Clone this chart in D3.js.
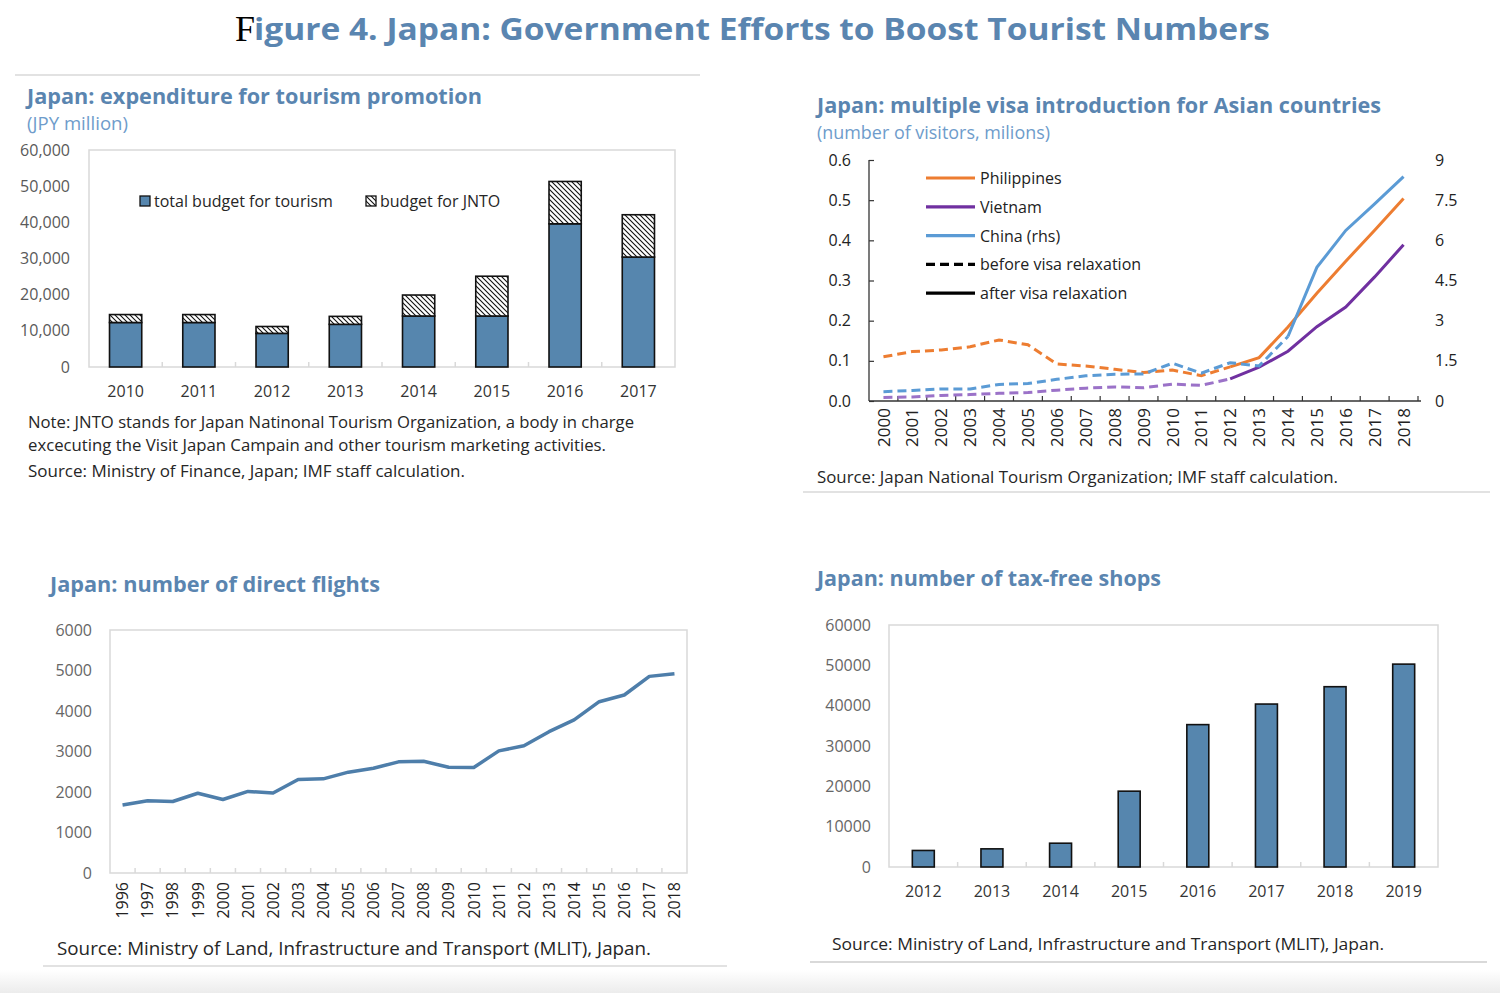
<!DOCTYPE html>
<html>
<head>
<meta charset="utf-8">
<script src="https://cdn.jsdelivr.net/npm/d3@7"></script>
<style>
  body { margin: 0; background: #fff; }
  svg text { font-family: 'Open Sans', sans-serif; }
</style>
</head>
<body>
<script>
// --- данные: расходы на продвижение туризма (JPY million)
const budgetYears = ['2010', '2011', '2012', '2013', '2014', '2015', '2016', '2017']
const tourismBudget = [12300, 12300, 9300, 11800, 14100, 14100, 39600, 30400]
const jntoBudget = [2200, 2200, 1900, 2200, 5800, 11000, 11700, 11700]
const budgetTicks = [0, 10000, 20000, 30000, 40000, 50000, 60000]

// --- данные: визы, число посетителей (млн)
const visaYears = ['2000', '2001', '2002', '2003', '2004', '2005', '2006', '2007', '2008', '2009',
    '2010', '2011', '2012', '2013', '2014', '2015', '2016', '2017', '2018']
const philippines = [0.110, 0.123, 0.127, 0.135, 0.152, 0.140, 0.092, 0.087, 0.079, 0.071,
    0.077, 0.063, 0.085, 0.108, 0.184, 0.268, 0.348, 0.425, 0.504]
const vietnam = [0.009, 0.010, 0.014, 0.016, 0.019, 0.021, 0.027, 0.032, 0.035, 0.033,
    0.042, 0.039, 0.055, 0.084, 0.124, 0.185, 0.234, 0.309, 0.389]
const china = [0.35, 0.39, 0.45, 0.45, 0.62, 0.65, 0.81, 0.94, 1.00, 1.01,
    1.41, 1.04, 1.43, 1.31, 2.41, 4.99, 6.37, 7.36, 8.38]
const relaxYear = {Philippines: '2012', Vietnam: '2012', China: '2014'}
const leftTicks = [0, 0.1, 0.2, 0.3, 0.4, 0.5, 0.6]
const rightTicks = [0, 1.5, 3, 4.5, 6, 7.5, 9]

// --- данные: прямые рейсы
const flightYears = ['1996', '1997', '1998', '1999', '2000', '2001', '2002', '2003', '2004', '2005', '2006',
    '2007', '2008', '2009', '2010', '2011', '2012', '2013', '2014', '2015', '2016', '2017', '2018']
const flights = [1680, 1785, 1765, 1970, 1815, 2015, 1975, 2310, 2325, 2490, 2585,
    2745, 2760, 2610, 2605, 3015, 3140, 3490, 3780, 4230, 4395, 4855, 4920]
const flightTicks = [0, 1000, 2000, 3000, 4000, 5000, 6000]

// --- данные: магазины tax-free
const shopYears = ['2012', '2013', '2014', '2015', '2016', '2017', '2018', '2019']
const shops = [4100, 4500, 5900, 18800, 35300, 40400, 44700, 50300]
const shopTicks = [0, 10000, 20000, 30000, 40000, 50000, 60000]

const width = 1500, height = 993
const barBlue = '#5686ae'
const titleBlue = '#5a85b0'
const subBlue = '#6e9ccb'
const frameGray = '#d9d9d9'
const orange = '#ed7d31', purple = '#7030a0', purpleLight = '#9b72c8', skyBlue = '#5b9bd5'

const svg = d3.select('body').append('svg').attr('width', width).attr('height', height)
svg.append('rect').attr('width', width).attr('height', height).attr('fill', '#fff')

// лёгкая серая тень внизу страницы
const defs = svg.append('defs')
const fade = defs.append('linearGradient').attr('id', 'fade').attr('x1', 0).attr('x2', 0).attr('y1', 0).attr('y2', 1)
fade.append('stop').attr('offset', '0%').attr('stop-color', '#fff')
fade.append('stop').attr('offset', '100%').attr('stop-color', '#ececec')
svg.append('rect').attr('x', 0).attr('y', 970).attr('width', width).attr('height', 23).attr('fill', 'url(#fade)')

// штриховка для JNTO
const hatch = defs.append('pattern').attr('id', 'hatch').attr('patternUnits', 'userSpaceOnUse')
    .attr('width', 5).attr('height', 5)
hatch.append('rect').attr('width', 5).attr('height', 5).attr('fill', '#fff')
hatch.append('path').attr('d', 'M-1,-1 L6,6 M-1,4 L1,6 M4,-1 L6,1')
    .attr('stroke', '#111').attr('stroke-width', 1.1)

// текст фиксированной ширины
function txt(x, y, str, size, fill, opts = {}) {
    const t = svg.append('text').attr('x', x).attr('y', y).text(str)
        .attr('font-size', size).attr('fill', fill)
    if (opts.weight) t.attr('font-weight', opts.weight)
    if (opts.len) t.attr('textLength', opts.len).attr('lengthAdjust', 'spacingAndGlyphs')
    if (opts.family) t.style('font-family', opts.family)
    return t
}
function hline(x1, x2, y, w = 1.5) {
    svg.append('line').attr('x1', x1).attr('x2', x2).attr('y1', y).attr('y2', y)
        .attr('stroke', frameGray).attr('stroke-width', w)
}

// заголовок
txt(235, 41, 'F', 36, '#000', {family: "'Liberation Serif', serif"})
txt(254, 40, 'igure 4. Japan: Government  Efforts to Boost Tourist Numbers', 31, titleBlue, {weight: 700, len: 1016})
hline(15, 700, 75)
hline(803, 1490, 492)
hline(43, 727, 966)
hline(810, 1487, 962, 2)

// оформление оси: стиль текста
function styleAxis(g, size, color) {
    g.attr('font-family', null).attr('font-size', size)
    g.selectAll('text').attr('fill', color).style('font-family', "'Open Sans', sans-serif")
    g.select('.domain').remove()
}

// ================= Chart 1: stacked bars =================
txt(27, 104, 'Japan: expenditure for tourism promotion', 22, titleBlue, {weight: 700, len: 455})
txt(27, 130, '(JPY million)', 18, subBlue, {len: 101})

const c1 = {left: 89, right: 675, top: 150, bottom: 367}
const x1 = d3.scaleBand(budgetYears, [c1.left, c1.right]).paddingInner(0.56).paddingOuter(0.28)
const y1 = d3.scaleLinear([0, 60000], [c1.bottom, c1.top])

svg.append('rect').attr('x', c1.left).attr('y', c1.top)
    .attr('width', c1.right - c1.left).attr('height', c1.bottom - c1.top)
    .attr('fill', 'none').attr('stroke', frameGray).attr('stroke-width', 1.5)

// разделительные засечки
svg.append('g').selectAll('line').data(budgetYears.slice(1)).join('line')
    .attr('x1', d => x1(d) - x1.step() * x1.paddingInner() / 2)
    .attr('x2', d => x1(d) - x1.step() * x1.paddingInner() / 2)
    .attr('y1', c1.bottom).attr('y2', c1.bottom - 5)
    .attr('stroke', frameGray).attr('stroke-width', 1.5)

svg.append('g').attr('transform', `translate(${c1.left},0)`)
    .call(d3.axisLeft(y1).tickValues(budgetTicks).tickSize(0).tickPadding(19).tickFormat(d3.format(',')))
    .call(g => styleAxis(g, 16, '#595959'))
svg.append('g').attr('transform', `translate(0,${c1.bottom})`)
    .call(d3.axisBottom(x1).tickSize(0).tickPadding(19))
    .call(g => styleAxis(g, 16, '#333'))

const budgetTable = budgetYears.map((year, i) => ({year, tourism: tourismBudget[i], jnto: jntoBudget[i]}))
const stacked = d3.stack().keys(['tourism', 'jnto'])(budgetTable)
svg.append('g').selectAll('g').data(stacked).join('g')
    .attr('fill', d => d.key === 'tourism' ? barBlue : 'url(#hatch)')
    .selectAll('rect').data(d => d).join('rect')
    .attr('x', d => x1(d.data.year))
    .attr('y', d => y1(d[1]))
    .attr('width', x1.bandwidth())
    .attr('height', d => y1(d[0]) - y1(d[1]))
    .attr('stroke', '#111').attr('stroke-width', 1.6)

// легенда
const leg1 = [{label: 'total budget for tourism', fill: barBlue, x: 140}, {label: 'budget for JNTO', fill: 'url(#hatch)', x: 366}]
leg1.forEach(l => {
    svg.append('rect').attr('x', l.x).attr('y', 196).attr('width', 10).attr('height', 10)
        .attr('fill', l.fill).attr('stroke', '#111').attr('stroke-width', 1.3)
    txt(l.x + 14, 207, l.label, 16, '#262626')
})

txt(28, 428, 'Note: JNTO stands for Japan Natinonal Tourism Organization, a body in charge', 16.5, '#262626', {len: 606})
txt(28, 451, 'excecuting the Visit Japan Campain and other tourism marketing activities.', 16.5, '#262626', {len: 578})
txt(28, 477, 'Source: Ministry of Finance, Japan; IMF staff calculation.', 16.5, '#262626', {len: 437})

// ================= Chart 2: visa lines =================
txt(817, 113, 'Japan: multiple visa introduction for Asian countries', 22, titleBlue, {weight: 700, len: 564})
txt(817, 139, '(number of visitors, milions)', 18, subBlue, {len: 233})

const c2 = {left: 869, right: 1418, top: 160, bottom: 401}
const x2 = d3.scaleBand(visaYears, [c2.left, c2.right])
const yL = d3.scaleLinear([0, 0.6], [c2.bottom, c2.top])
const yR = d3.scaleLinear([0, 9], [c2.bottom, c2.top])

svg.append('g').attr('transform', `translate(${c2.left},0)`)
    .call(d3.axisLeft(yL).tickValues(leftTicks).tickSizeInner(-5).tickSizeOuter(0).tickPadding(18).tickFormat(d3.format('.1f')))
    .call(g => {
        styleAxis(g, 16, '#222')
        g.selectAll('line').attr('stroke', '#333').attr('stroke-width', 1.2)
    })
svg.append('line').attr('x1', c2.left).attr('x2', c2.left).attr('y1', c2.top).attr('y2', c2.bottom)
    .attr('stroke', '#333').attr('stroke-width', 1.3)

svg.append('g').attr('transform', `translate(${c2.right},0)`)
    .call(d3.axisRight(yR).tickValues(rightTicks).tickSize(0).tickPadding(17).tickFormat(d3.format('~g')))
    .call(g => styleAxis(g, 16, '#222'))

svg.append('line').attr('x1', c2.left).attr('x2', c2.right + 3).attr('y1', c2.bottom).attr('y2', c2.bottom)
    .attr('stroke', '#333').attr('stroke-width', 1.3)
svg.append('g').selectAll('line').data(visaYears.slice(1).concat(['end'])).join('line')
    .attr('x1', (d, i) => c2.left + (i + 1) * x2.step())
    .attr('x2', (d, i) => c2.left + (i + 1) * x2.step())
    .attr('y1', c2.bottom).attr('y2', c2.bottom - 5)
    .attr('stroke', '#333').attr('stroke-width', 1.2)

svg.append('g').attr('transform', `translate(0,${c2.bottom})`)
    .call(d3.axisBottom(x2).tickSize(0))
    .call(g => {
        styleAxis(g, 17, '#222')
        g.selectAll('text').attr('transform', 'rotate(-90)').attr('text-anchor', 'end')
            .attr('x', -7).attr('y', 0).attr('dy', '0.36em')
    })

const visaSeries = [
    {name: 'Philippines', values: philippines, scale: yL, color: orange, dashColor: orange},
    {name: 'Vietnam', values: vietnam, scale: yL, color: purple, dashColor: purpleLight},
    {name: 'China', values: china, scale: yR, color: skyBlue, dashColor: skyBlue}
]
visaSeries.forEach(s => {
    const pts = visaYears.map((year, i) => ({year, value: s.values[i]}))
    const line = d3.line().x(d => x2(d.year) + x2.bandwidth() / 2).y(d => s.scale(d.value))
    const before = pts.filter(d => d.year <= relaxYear[s.name])
    const after = pts.filter(d => d.year >= relaxYear[s.name])
    svg.append('path').attr('d', line(before)).attr('fill', 'none')
        .attr('stroke', s.dashColor).attr('stroke-width', 3).attr('stroke-dasharray', '9,5')
    svg.append('path').attr('d', line(after)).attr('fill', 'none')
        .attr('stroke', s.color).attr('stroke-width', 3)
})

const leg2 = [
    {label: 'Philippines', color: orange},
    {label: 'Vietnam', color: purple},
    {label: 'China (rhs)', color: skyBlue},
    {label: 'before visa relaxation', color: '#000', dash: '9,5'},
    {label: 'after visa relaxation', color: '#000'}
]
leg2.forEach((l, i) => {
    const y = 178 + i * 28.8
    svg.append('line').attr('x1', 926).attr('x2', 975).attr('y1', y).attr('y2', y)
        .attr('stroke', l.color).attr('stroke-width', 3.2)
        .attr('stroke-dasharray', l.dash || null)
    txt(980, y + 6, l.label, 16, '#222')
})

txt(817, 483, 'Source: Japan National Tourism Organization; IMF staff calculation.', 16.5, '#262626', {len: 521})

// ================= Chart 3: direct flights =================
txt(50, 592, 'Japan: number of direct flights', 22, titleBlue, {weight: 700, len: 330})

const c3 = {left: 110, right: 687, top: 630, bottom: 873}
const x3 = d3.scaleBand(flightYears, [c3.left, c3.right])
const y3 = d3.scaleLinear([0, 6000], [c3.bottom, c3.top])

svg.append('rect').attr('x', c3.left).attr('y', c3.top)
    .attr('width', c3.right - c3.left).attr('height', c3.bottom - c3.top)
    .attr('fill', 'none').attr('stroke', frameGray).attr('stroke-width', 1.5)
svg.append('g').selectAll('line').data(flightYears.slice(1)).join('line')
    .attr('x1', d => x3(d)).attr('x2', d => x3(d))
    .attr('y1', c3.bottom).attr('y2', c3.bottom - 5)
    .attr('stroke', frameGray).attr('stroke-width', 1.5)

svg.append('g').attr('transform', `translate(${c3.left},0)`)
    .call(d3.axisLeft(y3).tickValues(flightTicks).tickSize(0).tickPadding(18).tickFormat(d3.format('d')))
    .call(g => styleAxis(g, 16, '#666'))
svg.append('g').attr('transform', `translate(0,${c3.bottom})`)
    .call(d3.axisBottom(x3).tickSize(0))
    .call(g => {
        styleAxis(g, 16, '#222')
        g.selectAll('text').attr('transform', 'rotate(-90)').attr('text-anchor', 'end')
            .attr('x', -9).attr('y', 0).attr('dy', '0.36em')
    })

const flightLine = d3.line().x((d, i) => x3(flightYears[i]) + x3.bandwidth() / 2).y(d => y3(d))
svg.append('path').attr('d', flightLine(flights)).attr('fill', 'none')
    .attr('stroke', '#4e7eaa').attr('stroke-width', 3.5).attr('stroke-linejoin', 'round')

txt(57, 955, 'Source: Ministry of Land, Infrastructure and Transport (MLIT), Japan.', 18, '#262626', {len: 594})

// ================= Chart 4: tax-free shops =================
txt(817, 586, 'Japan: number of tax-free shops', 22, titleBlue, {weight: 700, len: 344})

const c4 = {left: 889, right: 1438, top: 625, bottom: 867}
const x4 = d3.scaleBand(shopYears, [c4.left, c4.right]).paddingInner(0.68).paddingOuter(0.34)
const y4 = d3.scaleLinear([0, 60000], [c4.bottom, c4.top])

svg.append('rect').attr('x', c4.left).attr('y', c4.top)
    .attr('width', c4.right - c4.left).attr('height', c4.bottom - c4.top)
    .attr('fill', 'none').attr('stroke', frameGray).attr('stroke-width', 1.5)
svg.append('g').selectAll('line').data(shopYears.slice(1)).join('line')
    .attr('x1', d => x4(d) - x4.step() * x4.paddingInner() / 2)
    .attr('x2', d => x4(d) - x4.step() * x4.paddingInner() / 2)
    .attr('y1', c4.bottom).attr('y2', c4.bottom - 5)
    .attr('stroke', frameGray).attr('stroke-width', 1.5)

svg.append('g').attr('transform', `translate(${c4.left},0)`)
    .call(d3.axisLeft(y4).tickValues(shopTicks).tickSize(0).tickPadding(18).tickFormat(d3.format('d')))
    .call(g => styleAxis(g, 16, '#666'))
svg.append('g').attr('transform', `translate(0,${c4.bottom})`)
    .call(d3.axisBottom(x4).tickSize(0).tickPadding(19))
    .call(g => styleAxis(g, 16, '#333'))

svg.append('g').selectAll('rect').data(shops).join('rect')
    .attr('x', (d, i) => x4(shopYears[i]))
    .attr('y', d => y4(d))
    .attr('width', x4.bandwidth())
    .attr('height', d => c4.bottom - y4(d))
    .attr('fill', barBlue).attr('stroke', '#111').attr('stroke-width', 1.6)

txt(832, 950, 'Source: Ministry of Land, Infrastructure and Transport (MLIT), Japan.', 17, '#262626', {len: 552})
</script>
</body>
</html>
